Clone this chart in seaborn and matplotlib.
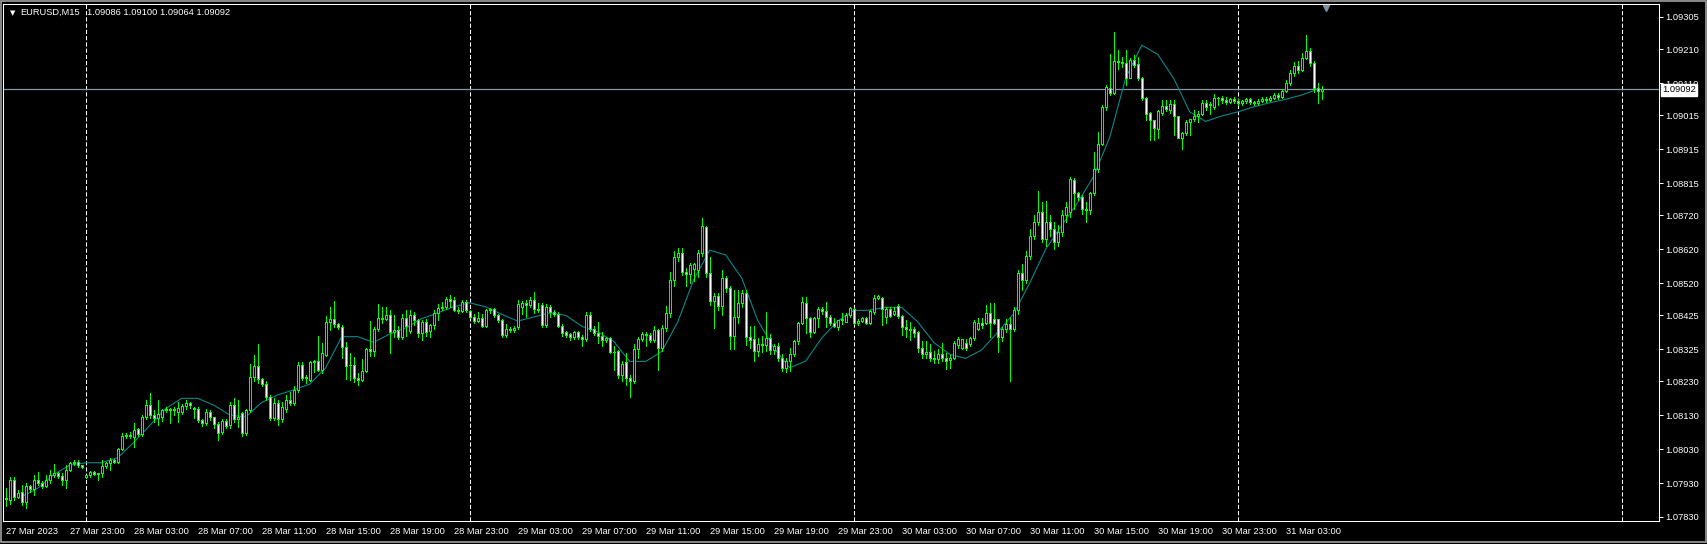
"""EURUSD M15 candlestick chart, MetaTrader style"""

import numpy as np
import seaborn as sns
import matplotlib.pyplot as plt
from matplotlib.patches import Rectangle
from matplotlib.transforms import blended_transform_factory

# prices are stored in points (0.00001) above BASE
BASE = 1.07

opens = [
    882, 880, 939, 890, 905, 875, 921, 912, 939, 930,
    921, 939, 954, 959, 950, 939, 969, 988, 993, 983,
    948, 953, 962, 957, 959, 979, 988, 998, 993, 1032,
    1069, 1072, 1067, 1089, 1076, 1126, 1160, 1131, 1122, 1124,
    1146, 1150, 1146, 1140, 1140, 1157, 1165, 1152, 1150, 1116,
    1106, 1140, 1124, 1103, 1080, 1114, 1100, 1160, 1118, 1136,
    1077, 1146, 1244, 1275, 1236, 1222, 1185, 1121, 1165, 1120,
    1150, 1175, 1165, 1205, 1278, 1240, 1234, 1286, 1290, 1265,
    1308, 1404, 1413, 1400, 1391, 1332, 1278, 1278, 1239, 1234,
    1262, 1325, 1320, 1384, 1416, 1413, 1426, 1377, 1382, 1362,
    1418, 1380, 1425, 1410, 1374, 1406, 1380, 1396, 1433, 1448,
    1450, 1472, 1470, 1442, 1438, 1465, 1438, 1420, 1409, 1418,
    1394, 1440, 1443, 1426, 1411, 1367, 1384, 1382, 1390, 1450,
    1460, 1455, 1470, 1445, 1455, 1396, 1450, 1436, 1430, 1394,
    1376, 1370, 1360, 1376, 1362, 1355, 1426, 1384, 1374, 1365,
    1351, 1358, 1318, 1320, 1250, 1286, 1240, 1230, 1325, 1355,
    1370, 1368, 1351, 1382, 1328, 1387, 1431, 1530, 1596, 1608,
    1554, 1546, 1561, 1560, 1608, 1685, 1551, 1466, 1482, 1451,
    1535, 1505, 1364, 1421, 1461, 1490, 1362, 1355, 1320, 1340,
    1338, 1357, 1323, 1335, 1300, 1270, 1290, 1310, 1348, 1402,
    1460, 1416, 1377, 1416, 1443, 1438, 1421, 1402, 1390, 1410,
    1406, 1426, 1443, 1403, 1408, 1416, 1402, 1436, 1477, 1477,
    1420, 1443, 1430, 1453, 1423, 1390, 1385, 1384, 1377, 1330,
    1310, 1318, 1300, 1295, 1310, 1300, 1292, 1300, 1337, 1330,
    1342, 1340, 1357, 1386, 1403, 1402, 1433, 1413, 1413, 1362,
    1386, 1400, 1385, 1440, 1550, 1530, 1600, 1660, 1700, 1730,
    1650, 1700, 1680, 1640, 1670, 1720, 1730, 1824, 1785, 1775,
    1740, 1735, 1785, 1856, 1929, 2040, 2096, 2082, 2171, 2171,
    2168, 2126, 2178, 2165, 2124, 2065, 2023, 2001, 1976, 2023,
    2043, 2030, 2047, 2014, 1949, 1964, 1994, 2004, 2014, 2018,
    2050, 2045, 2040, 2065, 2067, 2060, 2055, 2062, 2058, 2050,
    2056, 2062, 2054, 2050, 2058, 2064, 2060, 2066, 2075, 2070,
    2088, 2110, 2140, 2160, 2150, 2185, 2205, 2170, 2095, 2086,
]
highs = [
    915, 947, 947, 910, 924, 929, 925, 954, 963, 935,
    954, 969, 986, 962, 959, 983, 992, 998, 998, 983,
    955, 966, 966, 961, 998, 992, 1003, 1001, 1034, 1077,
    1077, 1082, 1106, 1092, 1130, 1175, 1195, 1146, 1175, 1150,
    1155, 1153, 1155, 1170, 1162, 1175, 1170, 1155, 1155, 1120,
    1148, 1146, 1126, 1110, 1120, 1118, 1170, 1180, 1175, 1140,
    1150, 1281, 1308, 1340, 1240, 1230, 1190, 1180, 1175, 1170,
    1190, 1200, 1215, 1288, 1288, 1248, 1290, 1293, 1364, 1342,
    1423, 1450, 1466, 1403, 1395, 1345, 1315, 1302, 1256, 1295,
    1330, 1408, 1390, 1458, 1450, 1450, 1440, 1426, 1393, 1428,
    1440, 1440, 1435, 1415, 1410, 1414, 1400, 1440, 1458, 1465,
    1480, 1485, 1478, 1450, 1470, 1470, 1440, 1430, 1435, 1428,
    1445, 1448, 1446, 1430, 1415, 1400, 1390, 1393, 1470, 1468,
    1470, 1480, 1494, 1460, 1460, 1458, 1455, 1440, 1435, 1398,
    1380, 1372, 1380, 1380, 1366, 1435, 1435, 1392, 1404, 1377,
    1362, 1362, 1333, 1322, 1290, 1313, 1250, 1340, 1362, 1375,
    1377, 1372, 1394, 1386, 1397, 1451, 1554, 1616, 1623, 1623,
    1564, 1580, 1580, 1618, 1711, 1689, 1598, 1490, 1490, 1559,
    1540, 1510, 1500, 1500, 1500, 1500, 1392, 1392, 1357, 1364,
    1436, 1370, 1340, 1342, 1310, 1300, 1330, 1352, 1405, 1480,
    1480, 1420, 1420, 1450, 1450, 1465, 1425, 1416, 1412, 1433,
    1431, 1450, 1446, 1413, 1420, 1420, 1442, 1485, 1485, 1480,
    1450, 1450, 1450, 1458, 1425, 1411, 1406, 1390, 1380, 1348,
    1348, 1340, 1320, 1325, 1342, 1315, 1308, 1350, 1362, 1355,
    1356, 1362, 1411, 1416, 1416, 1455, 1462, 1462, 1415, 1390,
    1415, 1420, 1450, 1560, 1575, 1615, 1680, 1720, 1791, 1760,
    1762, 1720, 1700, 1690, 1735, 1760, 1834, 1829, 1790, 1780,
    1760, 1789, 1907, 1966, 2045, 2104, 2197, 2261, 2207, 2188,
    2207, 2185, 2193, 2188, 2129, 2070, 2025, 2001, 2030, 2060,
    2060, 2060, 2060, 2014, 1966, 2001, 2004, 2030, 2027, 2060,
    2060, 2055, 2077, 2070, 2072, 2068, 2066, 2068, 2064, 2060,
    2066, 2066, 2058, 2062, 2070, 2068, 2072, 2080, 2082, 2094,
    2118, 2150, 2172, 2175, 2200, 2252, 2215, 2175, 2110, 2100,
]
lows = [
    862, 868, 880, 885, 865, 858, 905, 895, 925, 915,
    919, 930, 949, 945, 924, 917, 965, 983, 978, 975,
    945, 949, 955, 939, 949, 975, 969, 988, 990, 1027,
    1064, 1062, 1037, 1070, 1070, 1120, 1121, 1111, 1101, 1114,
    1140, 1108, 1130, 1111, 1133, 1150, 1152, 1121, 1111, 1098,
    1100, 1116, 1092, 1057, 1076, 1094, 1094, 1110, 1096, 1070,
    1072, 1140, 1232, 1225, 1215, 1175, 1115, 1116, 1100, 1110,
    1140, 1160, 1160, 1200, 1234, 1225, 1230, 1258, 1260, 1254,
    1305, 1382, 1391, 1385, 1300, 1238, 1234, 1228, 1220, 1230,
    1258, 1305, 1305, 1380, 1402, 1410, 1313, 1360, 1355, 1355,
    1365, 1372, 1397, 1362, 1352, 1365, 1362, 1385, 1411, 1440,
    1445, 1450, 1437, 1432, 1435, 1436, 1416, 1401, 1405, 1390,
    1390, 1432, 1420, 1404, 1362, 1360, 1375, 1375, 1385, 1430,
    1419, 1450, 1431, 1435, 1390, 1390, 1420, 1424, 1390, 1365,
    1360, 1352, 1355, 1355, 1335, 1350, 1378, 1368, 1342, 1333,
    1345, 1313, 1264, 1240, 1230, 1220, 1184, 1225, 1299, 1350,
    1333, 1345, 1345, 1264, 1320, 1380, 1421, 1510, 1584, 1544,
    1510, 1520, 1525, 1539, 1600, 1539, 1456, 1387, 1440, 1426,
    1495, 1325, 1325, 1402, 1450, 1337, 1328, 1290, 1305, 1318,
    1320, 1310, 1310, 1290, 1262, 1258, 1260, 1305, 1340, 1398,
    1372, 1360, 1372, 1391, 1430, 1391, 1396, 1390, 1382, 1400,
    1404, 1420, 1398, 1396, 1404, 1398, 1398, 1430, 1473, 1396,
    1402, 1420, 1425, 1418, 1367, 1362, 1352, 1360, 1318, 1300,
    1300, 1290, 1285, 1285, 1290, 1268, 1270, 1295, 1330, 1325,
    1322, 1335, 1352, 1382, 1388, 1400, 1362, 1398, 1318, 1350,
    1375, 1231, 1380, 1430, 1500, 1520, 1590, 1650, 1690, 1640,
    1630, 1660, 1620, 1630, 1660, 1700, 1715, 1740, 1765, 1725,
    1700, 1725, 1780, 1848, 1927, 2030, 2075, 2079, 2153, 2158,
    2104, 2124, 2158, 2119, 2060, 2001, 1942, 1942, 1947, 2016,
    2027, 2023, 1957, 1947, 1915, 1957, 1957, 1999, 1996, 2016,
    2030, 2020, 2035, 2045, 2050, 2048, 2050, 2052, 2045, 2046,
    2050, 2048, 2044, 2046, 2054, 2055, 2056, 2062, 2064, 2066,
    2084, 2104, 2130, 2140, 2145, 2180, 2160, 2085, 2052, 2064,
]
closes = [
    885, 939, 890, 900, 875, 921, 912, 939, 930, 921,
    939, 954, 959, 950, 939, 969, 988, 993, 983, 978,
    953, 962, 957, 959, 979, 988, 998, 993, 1032, 1069,
    1072, 1069, 1087, 1076, 1126, 1160, 1131, 1122, 1134, 1146,
    1150, 1146, 1150, 1152, 1157, 1165, 1160, 1150, 1116, 1106,
    1140, 1124, 1103, 1077, 1114, 1099, 1160, 1118, 1125, 1077,
    1146, 1244, 1275, 1236, 1222, 1185, 1121, 1165, 1120, 1155,
    1175, 1165, 1205, 1278, 1240, 1242, 1286, 1289, 1265, 1313,
    1404, 1413, 1400, 1391, 1332, 1275, 1278, 1239, 1234, 1262,
    1325, 1320, 1384, 1416, 1413, 1426, 1377, 1382, 1362, 1418,
    1392, 1425, 1410, 1374, 1406, 1377, 1396, 1433, 1448, 1450,
    1472, 1468, 1442, 1438, 1465, 1441, 1420, 1409, 1418, 1394,
    1440, 1443, 1426, 1411, 1367, 1384, 1382, 1388, 1458, 1460,
    1455, 1470, 1445, 1440, 1396, 1450, 1436, 1428, 1394, 1374,
    1367, 1360, 1376, 1360, 1355, 1426, 1384, 1374, 1365, 1351,
    1358, 1318, 1316, 1250, 1282, 1240, 1230, 1325, 1355, 1370,
    1368, 1351, 1382, 1328, 1387, 1431, 1530, 1596, 1608, 1554,
    1546, 1574, 1577, 1608, 1689, 1551, 1466, 1482, 1451, 1535,
    1505, 1364, 1421, 1461, 1490, 1362, 1353, 1320, 1340, 1338,
    1357, 1323, 1335, 1300, 1270, 1290, 1310, 1348, 1402, 1463,
    1416, 1377, 1416, 1443, 1438, 1421, 1402, 1392, 1410, 1413,
    1426, 1446, 1403, 1408, 1416, 1402, 1438, 1477, 1482, 1443,
    1445, 1423, 1437, 1423, 1390, 1385, 1382, 1374, 1330, 1310,
    1318, 1300, 1295, 1310, 1300, 1290, 1298, 1342, 1355, 1354,
    1328, 1357, 1406, 1403, 1395, 1433, 1402, 1402, 1362, 1386,
    1400, 1385, 1440, 1550, 1530, 1600, 1660, 1700, 1730, 1650,
    1700, 1680, 1640, 1670, 1720, 1745, 1827, 1785, 1775, 1740,
    1735, 1785, 1856, 1929, 2040, 2099, 2082, 2175, 2175, 2168,
    2126, 2178, 2163, 2124, 2065, 2020, 2001, 1978, 2027, 2043,
    2035, 2047, 2014, 1949, 1964, 1996, 2004, 2014, 2018, 2050,
    2040, 2047, 2065, 2067, 2060, 2055, 2062, 2058, 2050, 2056,
    2062, 2054, 2050, 2058, 2064, 2060, 2066, 2075, 2070, 2088,
    2110, 2140, 2160, 2150, 2185, 2205, 2170, 2095, 2086, 2092,
]

# moving average
ma_bars = list(range(4, 329, 4))
ma_pts = [
    890, 915, 955, 983, 990, 990, 1005, 1050, 1100, 1150,
    1180, 1180, 1160, 1131, 1125, 1168, 1190, 1205, 1222, 1270,
    1362, 1362, 1345, 1370, 1388, 1415, 1432, 1450, 1462, 1450,
    1428, 1408, 1420, 1432, 1425, 1393, 1376, 1348, 1289, 1289,
    1318, 1405, 1530, 1617, 1603, 1535, 1410, 1330, 1270, 1290,
    1358, 1408, 1439, 1440, 1449, 1448, 1406, 1345, 1310, 1298,
    1323, 1375, 1430, 1520, 1620, 1690, 1758, 1835, 1950, 2125,
    2222, 2195, 2124, 2025, 1997, 2013, 2025, 2040, 2052, 2062,
    2075, 2092,
]

date_bars = [0] + list(range(16, 321, 16))
date_labels = [
    "27 Mar 2023", "27 Mar 23:00", "28 Mar 03:00", "28 Mar 07:00",
    "28 Mar 11:00", "28 Mar 15:00", "28 Mar 19:00", "28 Mar 23:00",
    "29 Mar 03:00", "29 Mar 07:00", "29 Mar 11:00", "29 Mar 15:00",
    "29 Mar 19:00", "29 Mar 23:00", "30 Mar 03:00", "30 Mar 07:00",
    "30 Mar 11:00", "30 Mar 15:00", "30 Mar 19:00", "30 Mar 23:00",
    "31 Mar 03:00",
]
day_bars = [20, 116, 212, 308, 404]
price_ticks = [
    1.09305, 1.09210, 1.09110, 1.09015, 1.08915, 1.08815, 1.08720, 1.08620,
    1.08520, 1.08425, 1.08325, 1.08230, 1.08130, 1.08030, 1.07930, 1.07830,
]
last_price = 1.09092
symbol = "EURUSD,M15"
ohlc_text = "1.09086 1.09100 1.09064 1.09092"

LIME = "#00ff00"
TEAL = "#088888"
W, H = 1707, 544

sns.set_style("dark", {"axes.facecolor": "black", "figure.facecolor": "black"})
plt.rcParams["font.family"] = ["Liberation Sans", "DejaVu Sans"]

o = BASE + np.array(opens) / 1e5
h = BASE + np.array(highs) / 1e5
l = BASE + np.array(lows) / 1e5
c = BASE + np.array(closes) / 1e5
x = np.arange(len(o))

fig = plt.figure(figsize=(W / 100, H / 100), dpi=100, facecolor="black")
ax = fig.add_axes([3 / W, 23 / H, 1656 / W, 517 / H], facecolor="black")

# wicks
ax.vlines(x, l, h, color=LIME, linewidth=0.6, antialiased=False, zorder=3)
# bodies: black for up bars, white for down bars
up = c >= o
bottom = np.minimum(o, c)
height = np.abs(c - o)
ax.bar(x[up], height[up], bottom=bottom[up], width=0.55, color="black",
       edgecolor=LIME, linewidth=0.6, antialiased=False, zorder=4)
ax.bar(x[~up], height[~up], bottom=bottom[~up], width=0.55, color="white",
       edgecolor=LIME, linewidth=0.6, antialiased=False, zorder=4)

# moving average
sns.lineplot(x=ma_bars, y=BASE + np.array(ma_pts) / 1e5, color=TEAL,
             linewidth=0.8, ax=ax, zorder=2)

# day separators
for d in day_bars:
    ax.axvline(d, color="white", linewidth=0.75, linestyle=(0, (4, 2)), zorder=1)

# bid line
ax.axhline(last_price, color="#8a96a6", linewidth=0.9, zorder=1)

ax.set_xlim(-0.675, 413.325)
ax.set_ylim(1.078182, 1.0934335)

for s in ax.spines.values():
    s.set_color("white")
    s.set_linewidth(0.75)
    s.set_visible(True)

ax.yaxis.tick_right()
ax.set_yticks(price_ticks)
ax.set_yticklabels([f"{p:.5f}" for p in price_ticks])
ax.tick_params(axis="y", colors="white", labelcolor="white", labelsize=6.65,
               length=3, width=0.75, direction="out", pad=1.5)
ax.set_xticks(date_bars)
ax.set_xticklabels(date_labels)
ax.tick_params(axis="x", colors="white", labelcolor="white", labelsize=6.65,
               length=3, width=0.75, direction="out", pad=1.5)
for t in ax.get_xticklabels():
    t.set_ha("left")
ax.grid(False)

# price tag on the axis
fig.text(1662 / W, 1 - 90 / H, f"{last_price:.5f}", color="black",
         fontsize=6.65, va="center", ha="left", zorder=10,
         bbox=dict(boxstyle="square,pad=0.15", facecolor="white", edgecolor="white"))

# header
fig.text(10 / W, 1 - 12.7 / H, "▼", color="white", fontsize=5, va="center",
         family=["DejaVu Sans"])
fig.text(20.5 / W, 1 - 12.7 / H, symbol, color="white", fontsize=6.65, va="center")
fig.text(87 / W, 1 - 12.7 / H, ohlc_text, color="white", fontsize=6.65, va="center")

# chart shift marker
tr = blended_transform_factory(ax.transData, ax.transAxes)
ax.plot([330], [0.992], marker="v", markersize=5, color="#8090a0",
        transform=tr, clip_on=False, zorder=6)

# outer border
fig.patches.append(Rectangle((0.5 / W, 2 / H), 1705.5 / W, 541.5 / H,
                             transform=fig.transFigure, fill=False,
                             edgecolor="#a0a0a0", linewidth=1.2))

fig.savefig("out.png", dpi=100, facecolor="black")
